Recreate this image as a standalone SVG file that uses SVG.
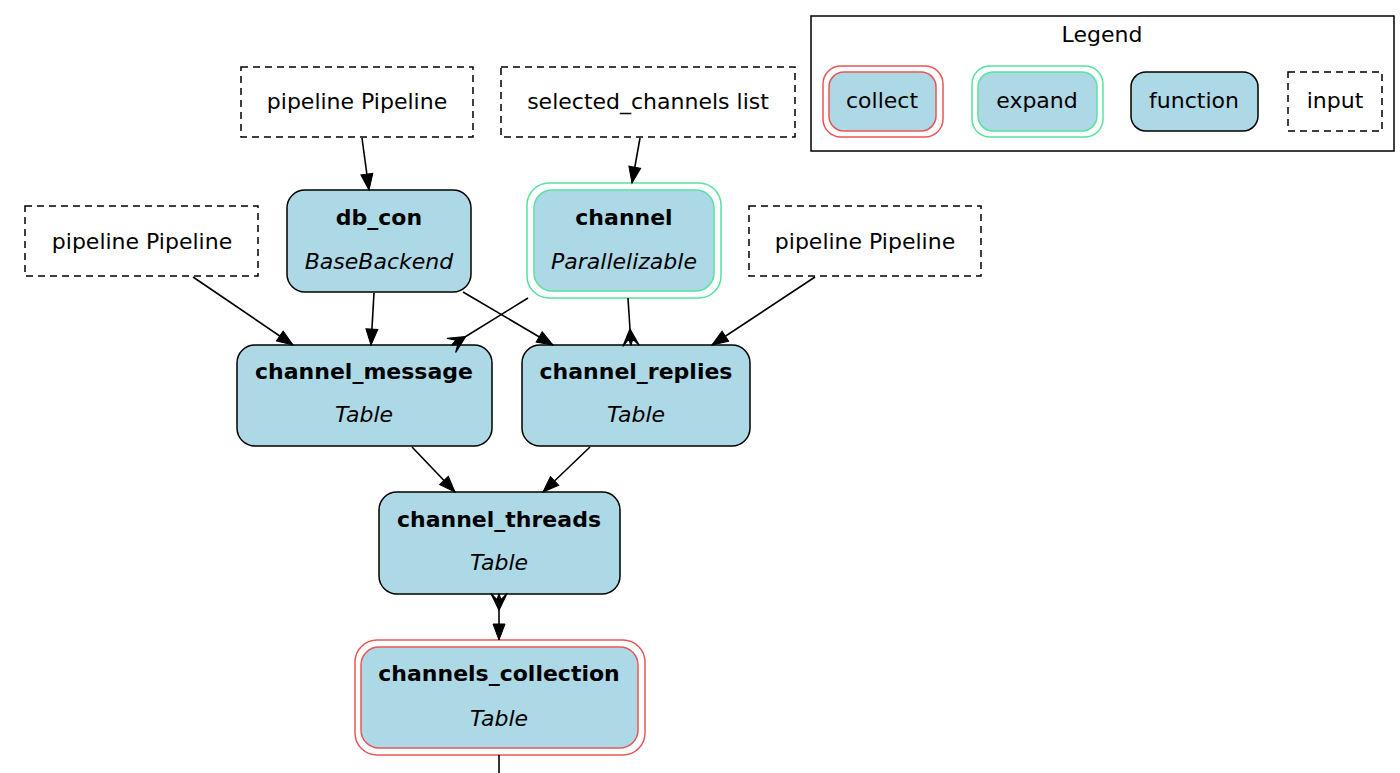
<svg xmlns="http://www.w3.org/2000/svg" width="1400" height="773" viewBox="0 0 1400 773">
<style>
text{font-family:"DejaVu Sans","Liberation Sans",sans-serif;font-size:22px;fill:#000;text-anchor:middle;dominant-baseline:central}
.b{font-weight:bold}
.i{font-style:italic}
.fn{fill:#add8e6;stroke:#000;stroke-width:1.5}
.col{fill:#add8e6;stroke:#ea5556;stroke-width:1.5}
.colo{fill:none;stroke:#ea5556;stroke-width:1.5}
.exp{fill:#add8e6;stroke:#56e39f;stroke-width:1.5}
.expo{fill:none;stroke:#56e39f;stroke-width:1.5}
.inp{fill:#fff;stroke:#000;stroke-width:1.5;stroke-dasharray:7,5}
.e{fill:none;stroke:#000;stroke-width:1.6}
</style>
<defs>
<marker id="arr" markerUnits="userSpaceOnUse" markerWidth="1" markerHeight="1" refX="0" refY="0" orient="auto" overflow="visible">
<path d="M-16,-6 L0,0 L-16,6 Z" fill="#000" stroke="#000" stroke-width="1"/>
</marker>
<marker id="crow" markerUnits="userSpaceOnUse" markerWidth="1" markerHeight="1" refX="0" refY="0" orient="auto-start-reverse" overflow="visible">
<path d="M-16,0 L0.5,-8 L-6,-2 L0,0 L-6,2 L0.5,8 Z" fill="#000" stroke="#000" stroke-width="1.3" stroke-linejoin="round"/>
</marker>
</defs>
<rect width="1400" height="773" fill="#fff"/>

<g id="legend">
<rect x="811" y="16" width="583" height="135" fill="#fff" stroke="#000" stroke-width="1.5"/>
<text x="1102" y="34">Legend</text>
<rect class="colo" x="823" y="66" width="120" height="71" rx="18"/>
<rect class="col" x="829" y="72" width="107" height="59" rx="15"/>
<text x="882" y="100">collect</text>
<rect class="expo" x="972" y="66" width="131" height="71" rx="18"/>
<rect class="exp" x="978" y="72" width="119" height="59" rx="15"/>
<text x="1037" y="100">expand</text>
<rect class="fn" x="1131" y="72" width="127" height="59" rx="15"/>
<text x="1194" y="100">function</text>
<rect class="inp" x="1288" y="72" width="94" height="59"/>
<text x="1335" y="100">input</text>
</g>

<g id="input_pipeline_top">
<rect class="inp" x="241" y="67" width="232" height="70"/>
<text x="357" y="101">pipeline Pipeline</text>
</g>
<g id="input_selected_channels">
<rect class="inp" x="501" y="67" width="294" height="70"/>
<text x="648" y="101">selected_channels list</text>
</g>
<g id="input_pipeline_left">
<rect class="inp" x="25" y="206" width="233" height="70"/>
<text x="142" y="241">pipeline Pipeline</text>
</g>
<g id="input_pipeline_right">
<rect class="inp" x="749" y="206" width="232" height="70"/>
<text x="865" y="241">pipeline Pipeline</text>
</g>

<g id="db_con">
<rect class="fn" x="287" y="190" width="184" height="102" rx="18"/>
<text class="b" x="379" y="217">db_con</text>
<text class="i" x="379" y="261">BaseBackend</text>
</g>
<g id="channel">
<rect class="expo" x="527" y="183" width="194" height="115" rx="22"/>
<rect class="exp" x="534" y="190" width="180" height="101" rx="18"/>
<text class="b" x="624" y="217">channel</text>
<text class="i" x="624" y="261">Parallelizable</text>
</g>
<g id="channel_message">
<rect class="fn" x="237" y="345" width="255" height="101" rx="18"/>
<text class="b" x="364" y="371">channel_message</text>
<text class="i" x="364" y="414">Table</text>
</g>
<g id="channel_replies">
<rect class="fn" x="522" y="345" width="228" height="101" rx="18"/>
<text class="b" x="636" y="371">channel_replies</text>
<text class="i" x="636" y="414">Table</text>
</g>
<g id="channel_threads">
<rect class="fn" x="379" y="492" width="241" height="102" rx="18"/>
<text class="b" x="499" y="519">channel_threads</text>
<text class="i" x="499" y="562">Table</text>
</g>
<g id="channels_collection">
<rect class="colo" x="355" y="640" width="290" height="115" rx="22"/>
<rect class="col" x="361" y="647" width="277" height="101" rx="18"/>
<text class="b" x="499" y="673">channels_collection</text>
<text class="i" x="499" y="718">Table</text>
</g>

<g id="connectors">
<path class="e" d="M362,138 L369,190" marker-end="url(#arr)"/>
<path class="e" d="M640,138 L632,183" marker-end="url(#arr)"/>
<path class="e" d="M193,277 L293,345" marker-end="url(#arr)"/>
<path class="e" d="M374,293 L371,345" marker-end="url(#arr)"/>
<path class="e" d="M463,292 L553,345" marker-end="url(#arr)"/>
<path class="e" d="M528,298 L452,345" marker-end="url(#crow)"/>
<path class="e" d="M628,298 L631,345" marker-end="url(#crow)"/>
<path class="e" d="M815,277 L712,345" marker-end="url(#arr)"/>
<path class="e" d="M412,447 L455,492" marker-end="url(#arr)"/>
<path class="e" d="M590,447 L543,492" marker-end="url(#arr)"/>
<path class="e" d="M499,594 L499,640" marker-start="url(#crow)" marker-end="url(#arr)"/>
<path class="e" d="M499,755 L499,773"/>
</g>
</svg>
